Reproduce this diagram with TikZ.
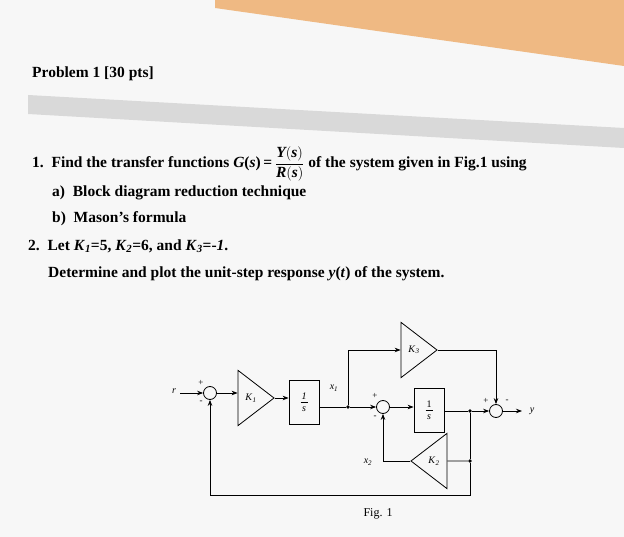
\documentclass[tikz,border=0pt]{standalone}
\usepackage{fontspec}
\setmainfont{Liberation Serif}
\usetikzlibrary{shapes.geometric,arrows.meta}
\newcommand\Kg[1]{\textit{K}\textsubscript{\itshape #1}}
\newcommand\ovs[1]{#1\\[-9pt]\rule{7pt}{0.5pt}\\[-3pt]\textit{s}}
\begin{document}
\begin{tikzpicture}[x=1pt,y=-1pt,
  txt/.style={anchor=west,inner sep=0,font=\fontsize{15.5}{17}\selectfont\bfseries},
  blk/.style={draw,thick,minimum width=30pt,minimum height=44pt,inner sep=0,align=center,font=\normalsize},
  gain/.style={draw,thick,isosceles triangle,isosceles triangle apex angle=75,minimum height=36pt,inner sep=0,font=\normalsize},
  sumj/.style={draw,thick,circle,minimum size=13pt,inner sep=0},
  dot/.style={circle,fill,inner sep=1.4pt},
  sig/.style={thick,-{Stealth[length=6pt]}},
  ln/.style={thick},
  lab/.style={font=\normalsize\itshape},
  sg/.style={font=\small,inner sep=1pt}]
\useasboundingbox (0,0) rectangle (624,537);
\fill[white!94!gray] (0,0) rectangle (624,537);
\fill[brown!45!orange!55] (215,0) -- (624,0) -- (624,66) -- (215,8) -- cycle;
\fill[gray!30] (28,95) -- (624,128) -- (624,148) -- (28,114) -- cycle;
\node[txt] (h) at (32,74) {Problem 1 [30 pts]};
\node[txt] (l1) at (32,164) {1.\ \ Find the transfer functions \textit{G}(\textit{s})\,=\,$\displaystyle\frac{\textit{Y}(\textit{s})}{\textit{R}(\textit{s})}$ of the system given in Fig.1 using};
\node[txt] (la) at (52,193) {a)\ \ Block diagram reduction technique};
\node[txt] (lb) at (52,219) {b)\ \ Mason's formula};
\node[txt] (l2) at (28,246) {2.\ \ Let \Kg{1}=5, \Kg{2}=6, and \Kg{3}=-\textit{1}.};
\node[txt] (l3) at (48,274) {Determine and plot the unit-step response \textit{y}(\textit{t}) of the system.};
% diagram
\coordinate (r) at (180,393);
\node[sumj] (s1) at (210,393) {};
\node[gain] (k1) at (251,398) {\Kg{1}};
\node[blk] (i1) at (304,402) {\ovs{\textit{1}}};
\node[dot] (j1) at (348,407) {};
\node[gain] (k3) at (414,350) {\Kg{3}};
\node[sumj] (s2) at (383,407) {};
\node[blk] (i2) at (429,410) {\ovs{1}};
\node[dot] (j2) at (470,411) {};
\node[sumj] (s3) at (496,411) {};
\coordinate (y) at (522,411);
\node[gain,shape border rotate=180] (k2) at (434,461) {\Kg{2}};
\node[dot] (j3) at (470,461) {};
\coordinate (bl) at (210,495);
\coordinate (br) at (470,495);
\node[lab] at (174,391) {r};
\node[lab] at (334,388) {x\textsubscript{1}};
\node[lab] at (368,462) {x\textsubscript{2}};
\node[lab] at (532,411) {y};
\node[sg] at (201,383) {+}; \node[sg] at (201,402) {-};
\node[sg] at (375,396) {+}; \node[sg] at (375,417) {-};
\node[sg] at (486,401) {+}; \node[sg] at (507,401) {-};
\draw[sig] (r) -- (s1);
\draw[sig] (s1) -- (k1.west |- s1);
\draw[sig] (k1.east) -- (i1.west |- k1.east);
\draw[ln] (i1.east |- j1) -- (j1);
\draw[sig] (j1) -- (s2);
\draw[sig] (j1) |- (k3.west);
\draw[sig] (s2) -- (i2.west |- s2);
\draw[ln] (i2.east |- j2) -- (j2);
\draw[sig] (j2) -- (s3);
\draw[sig] (k3.east) -| (s3);
\draw[sig] (s3) -- (y);
\draw[ln] (j2) -- (j3) -- (br) -- (bl);
\draw[sig] (bl) -- (s1);
\draw[ln] (j3) -- (k2.east);
\draw[sig] (k2.apex) -| (s2);
\node[font=\large] (fig) at (378,514) {Fig. 1};
\end{tikzpicture}
\end{document}
